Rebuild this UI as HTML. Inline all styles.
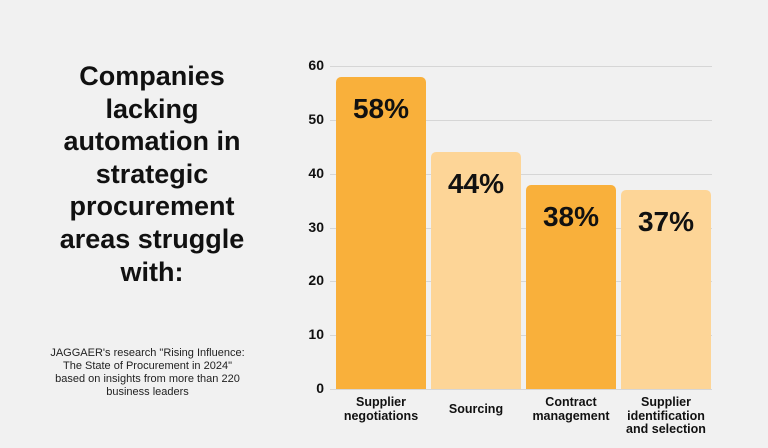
<!DOCTYPE html><html><head><style>
body{margin:0;width:768px;height:448px;background:#f1f1f1;font-family:"Liberation Sans",sans-serif;position:relative;overflow:hidden}
.t{position:absolute;left:27px;width:250px;top:60px;text-align:center;font-size:27px;font-weight:bold;line-height:32.6px;color:#111}
.f{position:absolute;left:0px;width:295px;top:347px;text-align:center;font-size:11px;line-height:13px;color:#222}
.g{position:absolute;left:330px;width:382px;height:1px;background:#d6d6d6}
.y{position:absolute;left:298px;width:26px;text-align:right;font-size:14px;font-weight:bold;color:#111}
.b{position:absolute;bottom:59px;border-radius:5px 5px 0 0}
.p{position:absolute;width:100%;text-align:center;top:16px;font-size:28px;font-weight:bold;color:#111}
.l{position:absolute;top:396px;width:100px;text-align:center;font-size:12.5px;font-weight:bold;line-height:13.5px;color:#111}
</style></head><body>
<div class="t">Companies<br>lacking<br>automation in<br>strategic<br>procurement<br>areas struggle<br>with:</div>
<div class="f">JAGGAER's research "Rising Influence:<br>The State of Procurement in 2024"<br>based on insights from more than 220<br>business leaders</div>
<div class="g" style="top:66px"></div><div class="g" style="top:120px"></div><div class="g" style="top:174px"></div><div class="g" style="top:228px"></div><div class="g" style="top:281px"></div><div class="g" style="top:335px"></div><div class="g" style="top:389px"></div>
<div class="y" style="top:57px">60</div><div class="y" style="top:111px">50</div><div class="y" style="top:165px">40</div><div class="y" style="top:219px">30</div><div class="y" style="top:272px">20</div><div class="y" style="top:326px">10</div><div class="y" style="top:380px">0</div>
<div class="b" style="left:336px;width:90px;top:77px;background:#f9b03b"><div class="p">58%</div></div>
<div class="b" style="left:431px;width:90px;top:152px;background:#fdd597"><div class="p">44%</div></div>
<div class="b" style="left:526px;width:90px;top:185px;background:#f9b03b"><div class="p">38%</div></div>
<div class="b" style="left:621px;width:90px;top:190px;background:#fdd597"><div class="p">37%</div></div>
<div class="l" style="left:331px;top:396px">Supplier<br>negotiations</div>
<div class="l" style="left:426px;top:403px">Sourcing</div>
<div class="l" style="left:521px;top:396px">Contract<br>management</div>
<div class="l" style="left:616px;top:396px">Supplier<br>identification<br>and selection</div>
</body></html>
